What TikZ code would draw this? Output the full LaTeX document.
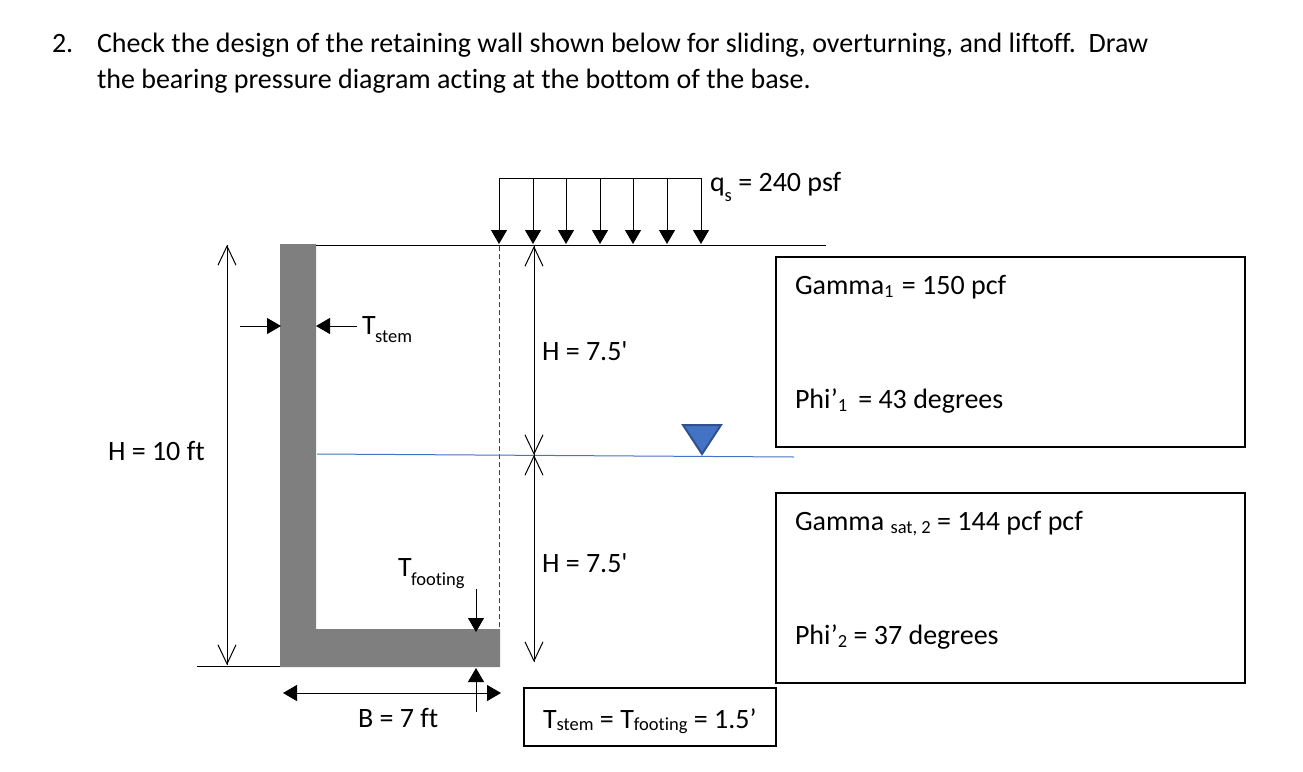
\documentclass[tikz,border=0pt]{standalone}
\usepackage{fontspec}
\setmainfont{Carlito}[Ligatures={NoCommon}]
\newfontfamily\plainfont{Carlito}
\usetikzlibrary{arrows.meta}
\usetikzlibrary{positioning}
\usetikzlibrary{calc}
\definecolor{wallgray}{HTML}{7F7F7F}
\definecolor{waterblue}{HTML}{4472C4}
\definecolor{waterdark}{HTML}{2F528F}
\newcommand{\lowtext}[2][3pt]{\raisebox{-#1}{\fontsize{18.5}{18.5}\selectfont #2}}

\begin{document}
\begin{tikzpicture}
    [x=1pt, y=-1pt,
    txt/.style={anchor=base west, inner sep=0pt, outer sep=0pt, font=\fontsize{28}{28}\selectfont},
    subtxt/.style={anchor=base west, inner sep=0pt, outer sep=0pt, font=\fontsize{18.5}{18.5}\selectfont},
    infobox/.style={draw=black, line width=2pt, anchor=north west, inner sep=0pt},
    solidarrow/.style={line width=1pt, -{Triangle[length=14pt,width=16pt]}},
    openarrow/.style={line width=1pt, -{Straight Barb[length=19pt,width=18pt,line width=1pt]}},
    thinline/.style={line width=1pt}]

    \useasboundingbox (0,0) rectangle (1303,771);

    % problem statement
    \node[txt] (num) at (52,52) {2.};
    \node[txt] (line1) at (97,52) {Check the design of the retaining wall shown below for sliding, overturning, and liftoff.\ \ Draw};
    \node[txt] (line2) at (97,88) {the bearing pressure diagram acting at the bottom of the base.};

    % wall
    \fill [wallgray] (280,244) -- (316,244) -- (316,629) -- (500,629) -- (500,667) -- (280,667) -- cycle;

    % ground and surcharge
    \coordinate (groundL) at (316,245);
    \coordinate (groundR) at (826,245);
    \draw [thinline] (groundL) -- (groundR);
    \coordinate (loadL) at (499,178);
    \coordinate (loadR) at (701,178);
    \draw [thinline] (loadL) -- (loadR);
    \foreach \x [count=\i] in {499,533,566,600,633,667,701} {
        \coordinate (load\i t) at (\x,178);
        \coordinate (load\i b) at (\x,244);
        \draw [solidarrow] (load\i t) -- (load\i b);
    }
    \node[txt] (qs) at (710,191) {q\lowtext[10pt]{s} = 240 psf};

    % dashed end of the footing
    \coordinate (dashT) at (499.5,246);
    \coordinate (dashB) at (499.5,629);
    \draw [thinline, dashed, dash pattern=on 5pt off 3pt, black!75] (dashT) -- (dashB);

    % total height
    \coordinate (htotT) at (227,245);
    \coordinate (htotB) at (227,665);
    \coordinate (baseL) at (197,666);
    \coordinate (baseR) at (280,666);
    \draw [openarrow] (htotB) -- (htotT);
    \draw [openarrow] (htotT) -- (htotB);
    \draw [thinline] (baseL) -- (baseR);
    \node[txt] (htot) at (108,460) {H = 10 ft};

    % stem thickness
    \coordinate (stemA) at (240,326);
    \coordinate (stemB) at (281,326);
    \coordinate (stemC) at (357,326);
    \coordinate (stemD) at (316,326);
    \draw [solidarrow] (stemA) -- (stemB);
    \draw [solidarrow] (stemC) -- (stemD);
    \node[txt] (tstem) at (362,334) {T};
    \node[subtxt] (tstemsub) at (375,342) {stem};

    % water table
    \coordinate (waterL) at (317,454);
    \coordinate (waterR) at (794,457);
    \draw [waterblue, line width=1pt] (waterL) -- (waterR);
    \draw [fill=waterblue, draw=waterdark, line width=2pt] (683,425) -- (721,425) -- (702,454) -- cycle;

    % partial heights
    \coordinate (hupT) at (534,246);
    \coordinate (hmid) at (534,455);
    \coordinate (hlowB) at (534,662);
    \draw [openarrow] (hmid) -- (hupT);
    \draw [openarrow] (hupT) -- (hmid);
    \draw [openarrow] (hlowB) -- (hmid);
    \draw [openarrow] (hmid) -- (hlowB);
    \node[txt] (hup) at (542,360) {\plainfont H = 7.5'};
    \node[txt] (hlow) at (542,572) {\plainfont H = 7.5'};

    % footing thickness
    \node[txt] (tfoot) at (398,576) {T};
    \node[subtxt] (tfootsub) at (411,585) {footing};
    \coordinate (footA) at (476,589);
    \coordinate (footB) at (476,632);
    \coordinate (footC) at (476,712);
    \coordinate (footD) at (476,668);
    \draw [solidarrow] (footA) -- (footB);
    \draw [solidarrow] (footC) -- (footD);

    % base width
    \coordinate (widthL) at (283,693);
    \coordinate (widthR) at (501,693);
    \draw [line width=1pt, {Triangle[length=14pt,width=16pt]}-{Triangle[length=14pt,width=16pt]}] (widthL) -- (widthR);
    \node[txt] (bwidth) at (358,727) {B = 7 ft};

    % soil boxes
    \node[infobox, minimum width=469pt, minimum height=190pt] (upperbox) at (775,256) {};
    \node[txt] (gamma1) at (795,294) {Gamma\lowtext{1} \kern2pt= 150 pcf};
    \node[txt] (phi1) at (795,408) {Phi’\lowtext{1} \,= 43 degrees};

    \node[infobox, minimum width=469pt, minimum height=190pt] (lowerbox) at (775,492) {};
    \node[txt] (gamma2) at (795,530) {Gamma \lowtext{sat, 2} = 144 pcf pcf};
    \node[txt] (phi2) at (795,644) {Phi’\lowtext{2} = 37 degrees};

    \node[infobox, minimum width=252pt, minimum height=58pt] (thickbox) at (523,687) {};
    \node[txt] (thick) at (543,728) {T\lowtext[2pt]{stem} = T\lowtext[2pt]{footing} = 1.5’};
\end{tikzpicture}
\end{document}
